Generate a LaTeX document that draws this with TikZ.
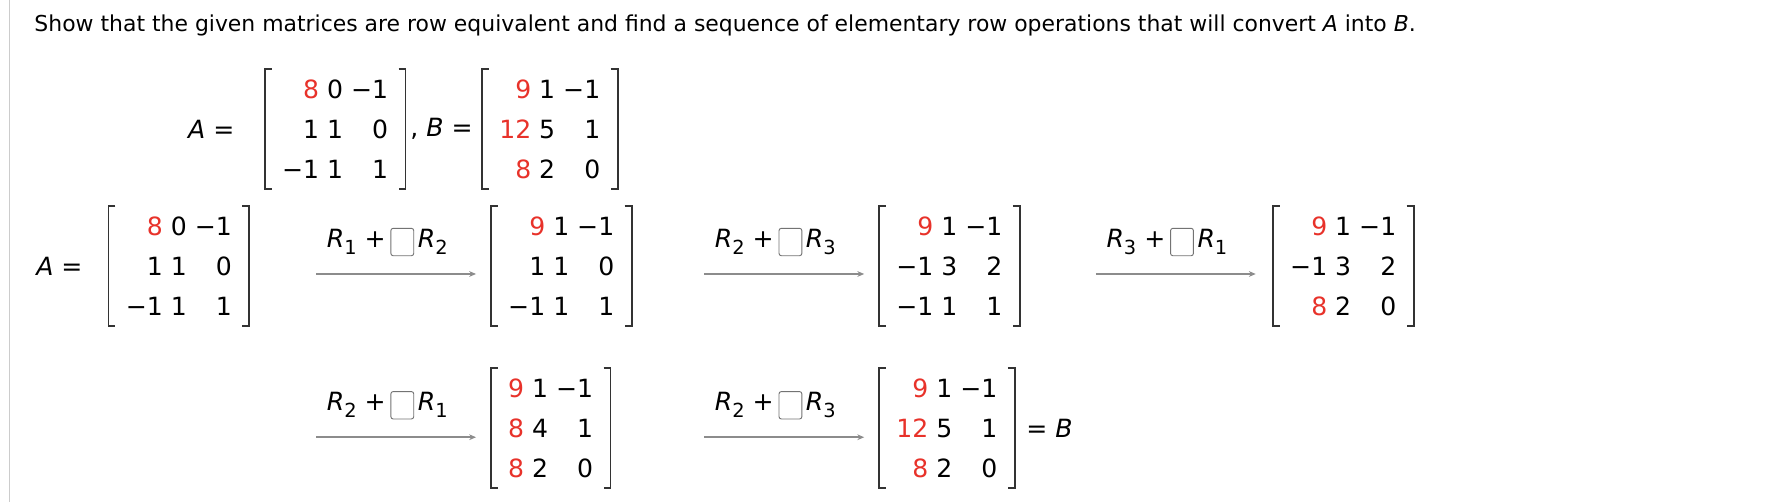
\documentclass[tikz,border=0pt]{standalone}
\usepackage{fontspec}
\setmainfont{DejaVu Sans}
\usetikzlibrary{matrix,positioning,arrows.meta}
\definecolor{rd}{HTML}{E8322A}
\tikzset{
 mat/.style={matrix of nodes, nodes={anchor=base east, inner sep=0pt, text height=17pt, text depth=0pt, font=\fontsize{22}{26}\selectfont}, row sep=18pt, column sep=7pt, inner xsep=15pt, inner ysep=9pt, anchor=west},
 brk/.style={draw=black!80, line width=1.6pt},
 txt/.style={font=\fontsize{22}{26}\selectfont, inner sep=0pt},
 bx/.style={draw=black!55, rounded corners=2pt, minimum width=20pt, minimum height=24pt, inner sep=0pt, line width=0.8pt},
 arr/.style={draw=black!45, line width=1.6pt, -{Stealth[length=6pt,width=5pt]}},
}
\newcommand\brackets[1]{\draw[brk] ([xshift=6pt]#1.north west) -- (#1.north west) -- (#1.south west) -- ([xshift=6pt]#1.south west);
 \draw[brk] ([xshift=-6pt]#1.north east) -- (#1.north east) -- (#1.south east) -- ([xshift=-6pt]#1.south east);}
\newcommand\rr[1]{\textit{R}\raisebox{-0.5ex}{\fontsize{17}{20}\selectfont #1}}
\newcommand\opstep[5]{% name, x, y(label), left sub, right sub
 \node[txt, anchor=east] (#1l) at (#2-7,#3) {\rr{#4} +};
 \node[bx, anchor=west] (#1b) at ([xshift=4pt]#1l.east) {};
 \node[txt, anchor=west] (#1r) at ([xshift=3pt]#1b.east) {\rr{#5}};
 \coordinate (#1s) at (#2-68,#3+28);
 \coordinate (#1e) at (#2+72,#3+28);
 \draw[arr] (#1s) -- (#1e);}
\begin{document}
\begin{tikzpicture}[x=1pt,y=-1pt]
\useasboundingbox (0,0) rectangle (1568,440);
\fill[white] (0,0) rectangle (1568,440);
\draw[black!20, line width=1pt] (8,0) -- (8,440);
\node[font=\fontsize{19.2}{23}\selectfont, anchor=west, inner sep=0pt] (title) at (30,22) {Show that the given matrices are row equivalent and find a sequence of elementary row operations that will convert \textit{A} into \textit{B}.};
% top row
\node[txt] (tA) at (185,113) {\textit{A} =};
\matrix[mat] (M0) at (232,113) {|[rd]|8 & 0 & −1\\ 1 & 1 & 0\\ −1 & 1 & 1\\};
\brackets{M0}
\node[txt, anchor=west] (tB) at ([xshift=4pt]M0.east) {, \textit{B} =};
\matrix[mat] (M1) at ([xshift=8pt]tB.east) {|[rd]|9 & 1 & −1\\ |[rd]|12 & 5 & 1\\ |[rd]|8 & 2 & 0\\};
\brackets{M1}
% row 2
\node[txt] (A2) at (52,233) {\textit{A} =};
\matrix[mat] (N1) at (95,233) {|[rd]|8 & 0 & −1\\ 1 & 1 & 0\\ −1 & 1 & 1\\};
\brackets{N1}
\opstep{o1}{345}{212}{1}{2}
\matrix[mat] (N2) at (430,233) {|[rd]|9 & 1 & −1\\ 1 & 1 & 0\\ −1 & 1 & 1\\};
\brackets{N2}
\opstep{o2}{685}{212}{2}{3}
\matrix[mat] (N3) at (770,233) {|[rd]|9 & 1 & −1\\ −1 & 3 & 2\\ −1 & 1 & 1\\};
\brackets{N3}
\opstep{o3}{1028}{212}{3}{1}
\matrix[mat] (N4) at (1115,233) {|[rd]|9 & 1 & −1\\ −1 & 3 & 2\\ |[rd]|8 & 2 & 0\\};
\brackets{N4}
% row 3
\opstep{o4}{345}{355}{2}{1}
\matrix[mat] (N5) at (430,375) {|[rd]|9 & 1 & −1\\ |[rd]|8 & 4 & 1\\ |[rd]|8 & 2 & 0\\};
\brackets{N5}
\opstep{o5}{685}{355}{2}{3}
\matrix[mat] (N6) at (770,375) {|[rd]|9 & 1 & −1\\ |[rd]|12 & 5 & 1\\ |[rd]|8 & 2 & 0\\};
\brackets{N6}
\node[txt, anchor=west] (eqB) at ([xshift=10pt]N6.east) {= \textit{B}};
\end{tikzpicture}
\end{document}
